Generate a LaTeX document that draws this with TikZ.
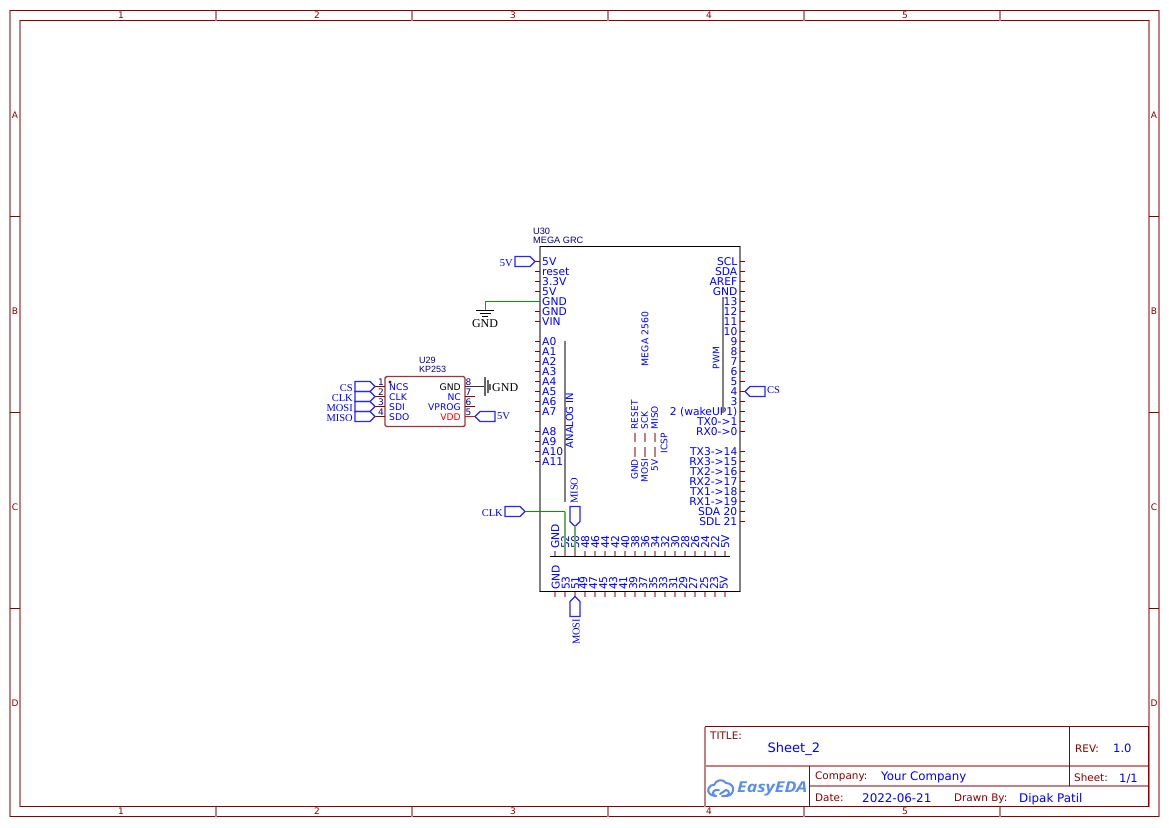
\documentclass[tikz,border=0pt]{standalone}
\usepackage{fontspec}
\setmainfont{DejaVu Sans}
\newfontfamily\serifnet{Liberation Serif}
\newfontfamily\sansh{Liberation Sans}
\newfontfamily\logof{Open Sans}
\definecolor{frm}{HTML}{880000}
\definecolor{val}{HTML}{0000FF}
\definecolor{netgreen}{HTML}{0F9A0F}
\definecolor{hdr}{HTML}{000080}
\definecolor{logoc}{HTML}{5B8DF0}
\tikzset{
  frame/.style={draw=frm,line width=1pt},
  framepale/.style={draw=frm!50,line width=2pt},
  pinstub/.style={draw=frm,line width=1pt},
  pinpale/.style={draw=frm!50,line width=2pt},
  body/.style={draw=black,line width=1pt},
  bodypale/.style={draw=black!50,line width=2pt},
  netwire/.style={color=green!60!black,line width=1.4pt},
  netpale/.style={color=green!50!black!60,line width=2pt},
  flag/.style={draw=val!85,line width=1.3pt},
  gndsym/.style={draw=black,line width=1pt},
  frametxt/.style={text=frm,inner sep=0pt,font=\fontsize{9}{9}\selectfont},
  lbl/.style={text=frm,inner sep=0pt,anchor=west,text height=7.6pt,text depth=0pt,font=\fontsize{10.4}{11}\selectfont},
  valtxt/.style={text=val,inner sep=0pt,anchor=west,text height=8.7pt,text depth=0pt,font=\fontsize{11.9}{12}\selectfont},
  pinl/.style={text=val,inner sep=0pt,anchor=west,text height=8pt,text depth=0pt,font=\fontsize{10.7}{11}\selectfont},
  pinr/.style={text=val,inner sep=0pt,anchor=east,text height=8pt,text depth=0pt,font=\fontsize{10.7}{11}\selectfont},
  vertl/.style={text=val,inner sep=0pt,rotate=90,anchor=west,text height=8pt,text depth=0pt,font=\fontsize{10.7}{11}\selectfont},
  small/.style={text=val,inner sep=0pt,rotate=90,text height=6.6pt,text depth=0pt,font=\fontsize{9}{9}\selectfont},
  icl/.style={text=val,inner sep=0pt,text height=6.7pt,text depth=0pt,font=\fontsize{9.2}{9}\selectfont},
  pinnum/.style={text=val!60!black,inner sep=0pt,font=\fontsize{9}{9}\selectfont},
  nettxt/.style={text=val,inner sep=0pt,text height=7pt,text depth=0pt,font=\serifnet\fontsize{10.5}{11}\selectfont},
  gndtxt/.style={text=black,inner sep=0pt,text height=8pt,text depth=0pt,font=\serifnet\fontsize{12}{12}\selectfont},
  header/.style={text=hdr,inner sep=0pt,anchor=west,font=\sansh\fontsize{9.2}{9}\selectfont},
}
\begin{document}
\begin{tikzpicture}[x=1pt,y=-1pt]
\useasboundingbox (0,0) rectangle (1169,827);
\fill[white] (0,0) rectangle (1169,827);
% frame
\draw[framepale] (10,10) -- (10,817);
\draw[framepale] (1159,10) -- (1159,817);
\draw[framepale] (20,20) -- (20,807);
\draw[framepale] (1149,20) -- (1149,807);
\draw[frame] (10,10.5) -- (1159,10.5);
\draw[frame] (10,816.5) -- (1159,816.5);
\draw[frame] (20,20.5) -- (1149,20.5);
\draw[frame] (20,806.5) -- (1149,806.5);
\foreach \x in {216,412,608,804,1000}{
  \draw[framepale] (\x,10.5) -- (\x,20.5);
  \draw[framepale] (\x,806.5) -- (\x,816.5);
}
\foreach \y in {216,412,608}{
  \draw[frame] (10,\y.5) -- (20,\y.5);
  \draw[frame] (1149,\y.5) -- (1159,\y.5);
}
\foreach \x/\t in {121/1,317/2,513/3,709/4,905/5}{
  \node[frametxt] (top\t) at (\x,15.5) {\t};
  \node[frametxt] (bot\t) at (\x,811.5) {\t};
}
\foreach \y/\t in {115/A,311/B,507/C,703/D}{
  \node[frametxt] (left\t) at (15,\y) {\t};
  \node[frametxt] (right\t) at (1154,\y) {\t};
}
% title block
\draw[framepale] (705,726.5) -- (705,806.5);
\draw[frame] (705,726.5) -- (1149,726.5);
\draw[framepale] (705,766) -- (1149,766);
\draw[framepale] (809,786) -- (1149,786);
\draw[frame] (809.5,766) -- (809.5,806.5);
\draw[frame] (1069.5,726.5) -- (1069.5,786);
\draw[frame] (1148.5,726.5) -- (1148.5,806.5);
\node[lbl] (ttl) at (710,736) {TITLE:};
\node[text=val,inner sep=0pt,anchor=west,text height=9.5pt,text depth=0pt,font=\fontsize{13}{13}\selectfont] (sheetname) at (767.5,747.5) {Sheet\_2};
\node[lbl] (rev) at (1075,749) {REV:};
\node[valtxt,font=\fontsize{11.5}{12}\selectfont] (revv) at (1113,748.4) {1.0};
\node[lbl] (comp) at (815,776) {Company:};
\node[valtxt,font=\fontsize{11.8}{12}\selectfont] (compv) at (881,776) {Your Company};
\node[lbl] (sht) at (1074,778) {Sheet:};
\node[valtxt,font=\fontsize{11.5}{12}\selectfont] (shtv) at (1119,777.7) {1/1};
\node[lbl] (date) at (815,798) {Date:};
\node[valtxt] (datev) at (862,797.8) {2022-06-21};
\node[lbl] (drawn) at (954,798) {Drawn By:};
\node[valtxt] (drawnv) at (1019,797.8) {Dipak Patil};
% logo
\draw[draw=logoc,line width=2pt,line cap=round,line join=round]
  (716,796) .. controls (710,796) and (707,792) .. (708.5,788.5)
  .. controls (709.5,785.5) and (712,784.5) .. (714,785)
  .. controls (716,779.5) and (723,778.5) .. (726,783)
  .. controls (731,783) and (734,787) .. (733,790.5)
  .. controls (732,794) and (730,796) .. (726,796);
\draw[draw=logoc,line width=2pt,line cap=round] (716,796) .. controls (712,796) and (712,790) .. (716,790) -- (719,790);
\draw[draw=logoc,line width=2pt,line cap=round] (720,794) -- (726,790) .. controls (730,790) and (730,796) .. (725,796) -- (722,796);
\node[text=logoc,inner sep=0pt,anchor=west,xscale=1.18,font=\logof\bfseries\itshape\fontsize{15}{15}\selectfont] (logo) at (737,789) {EasyEDA};
% U30 body
\node[header] (u30a) at (533,231) {U30};
\node[header] (u30b) at (533,240.5) {MEGA GRC};
\draw[bodypale] (540,246) -- (540,592);
\draw[bodypale] (740,246) -- (740,592);
\draw[body] (540,246.5) -- (740,246.5);
\draw[body] (540,591.5) -- (740,591.5);
\foreach \y/\t in {261/5V,271/reset,281/3.3V,291/5V,301/GND,311/GND,321/VIN,341/A0,351/A1,361/A2,371/A3,381/A4,391/A5,401/A6,411/A7,431/A8,441/A9,451/A10,461/A11}{
  \draw[pinstub] (535,\y.5) -- (540,\y.5);
  \node[pinl] at (542,\y) {\t};
}
\foreach \y/\t in {261/SCL,271/SDA,281/AREF,291/GND,301/13,311/12,321/11,331/10,341/9,351/8,361/7,371/6,381/5,391/4,401/3,411/2 (wakeUP1),421/TX0->1,431/RX0->0,451/TX3->14,461/RX3->15,471/TX2->16,481/RX2->17,491/TX1->18,501/RX1->19,511/SDA 20,521/SDL 21}{
  \draw[pinstub] (740,\y.5) -- (745,\y.5);
  \node[pinr] at (737.5,\y) {\t};
}
\draw[bodypale] (565,341) -- (565,502);
\draw[bodypale] (723,297) -- (723,413);
\draw[body] (549.5,556.5) -- (730,556.5);
\node[small,text height=7.3pt,font=\fontsize{10}{10}\selectfont] (analog) at (569.5,420.5) {ANALOG IN};
\node[small] (pwm) at (716,358) {PWM};
\node[small,font=\fontsize{9.3}{9}\selectfont] (mega) at (645,339) {MEGA 2560};
\node[small] (icsp) at (664,443) {ICSP};
\foreach \x/\t/\b in {635/RESET/GND,645/SCK/MOSI,655/MISO/5V}{
  \draw[pinpale] (\x,433) -- (\x,441.5);
  \draw[pinpale] (\x,446.5) -- (\x,456.5);
  \node[small,anchor=west] at (\x-0.5,429.5) {\t};
  \node[small,anchor=east] at (\x-0.5,459) {\b};
}
% lower pin rows
\foreach \x/\t in {555/GND,565/52,575/50,585/48,595/46,605/44,615/42,625/40,635/38,645/36,655/34,665/32,675/30,685/28,695/26,705/24,715/22,725/5V}{
  \draw[pinpale] (\x,551) -- (\x,556);
  \node[vertl] at (\x,549) {\t};
}
\foreach \x/\t/\o in {555/GND/0.5,565/53/0.5,575/51/0,585/49/-2,595/47/-2,605/45/-2,615/43/-2,625/41/-2,635/39/-2,645/37/-2,655/35/-2,665/33/-2,675/31/-2,685/29/-2,695/27/-2,705/25/-1,715/23/-1,725/5V/-1.5}{
  \draw[pinpale] (\x,592) -- (\x,597);
  \node[vertl] at (\x+\o,590) {\t};
}
% net flags on U30
\draw[flag] (515,256.5) -- (530,256.5) -- (535,261.5) -- (530,266.5) -- (515,266.5) -- cycle;
\node[nettxt,anchor=east] (n5v) at (513,262.7) {5V};
\coordinate (g1a) at (540,301.5);
\coordinate (g1b) at (485,301.5);
\coordinate (g1c) at (485,311);
\draw[draw=black!60,line width=1pt] (g1b) -- (g1c);
\draw[netwire] (g1a) -- (g1b);
\draw[gndsym] (476,310.5) -- (494,310.5);
\draw[gndsym] (479.5,313.5) -- (490.5,313.5);
\draw[gndsym] (482,316.5) -- (487.5,316.5);
\node[gndtxt] (gnd1) at (485,323.2) {GND};
\draw[flag] (505,506.5) -- (520,506.5) -- (525,511.5) -- (520,516.5) -- (505,516.5) -- cycle;
\node[nettxt,anchor=east] (nclk) at (503,512.7) {CLK};
\coordinate (c1) at (525,511.5);
\coordinate (c2) at (565,511.5);
\coordinate (c3) at (565,551);
\draw[netpale] (c2) -- (c3);
\draw[netwire] (c1) -- (c2);
\draw[flag] (570,506.5) -- (580,506.5) -- (580,521.5) -- (575,526.5) -- (570,521.5) -- cycle;
\node[nettxt,rotate=90,anchor=west] (nmiso) at (574,504) {MISO};
\coordinate (m1) at (575,526);
\coordinate (m2) at (575,551);
\draw[netpale] (m1) -- (m2);
\draw[flag] (575,596.5) -- (580,601.5) -- (580,616.5) -- (570,616.5) -- (570,601.5) -- cycle;
\node[nettxt,rotate=90,anchor=east] (nmosi) at (576,618.5) {MOSI};
\draw[flag] (745,391.5) -- (750,386.5) -- (765,386.5) -- (765,396.5) -- (750,396.5) -- cycle;
\node[nettxt,anchor=west] (ncs) at (767,390.3) {CS};
% U29
\node[header,font=\sansh\fontsize{9}{9}\selectfont] (u29a) at (419,360.5) {U29};
\node[header,font=\sansh\fontsize{9}{9}\selectfont] (u29b) at (419,369.5) {KP253};
\draw[draw=frm!80,line width=1.4pt,rounded corners=1.5pt] (385,376.5) rectangle (465,426.5);
\fill[frm] (390,382) circle (1.6);
\foreach \y/\n/\t/\f in {387/1/NCS/CS,397/2/CLK/CLK,407/3/SDI/MOSI,417/4/SDO/MISO}{
  \draw[pinstub] (375,\y-0.5) -- (385,\y-0.5);
  \node[pinnum] at (381,\y-5) {\n};
  \node[icl,anchor=west] at (389,\y.5) {\t};
  \draw[flag] (355,\y-5.5) -- (370,\y-5.5) -- (375,\y-0.5) -- (370,\y+4.5) -- (355,\y+4.5) -- cycle;
  \node[nettxt,anchor=east] at (353,\y+1) {\f};
}
\draw[draw=black!80,line width=1pt] (465,386.5) -- (485,386.5);
\draw[pinstub] (465,396.5) -- (475,396.5);
\draw[pinstub] (465,406.5) -- (475,406.5);
\draw[draw=red,line width=1pt] (465,416.5) -- (475,416.5);
\foreach \y/\n in {387/8,397/7,407/6,417/5}{
  \node[pinnum] at (468.5,\y-5) {\n};
}
\node[icl,anchor=east,text=black] (pgnd) at (461,387.5) {GND};
\node[icl,anchor=east] (pnc) at (461,397.5) {NC};
\node[icl,anchor=east] (pvp) at (461,407.5) {VPROG};
\node[icl,anchor=east,text=red] (pvdd) at (461,417.5) {VDD};
\draw[draw=black!60,line width=2pt] (485,377) -- (485,396);
\draw[draw=black!60,line width=2pt] (487.5,380) -- (487.5,393);
\draw[draw=black!60,line width=2pt] (490,383.5) -- (490,389.5);
\node[gndtxt,anchor=west] (gnd2) at (492,387) {GND};
\draw[flag] (475,416.5) -- (480,411.5) -- (495,411.5) -- (495,421.5) -- (480,421.5) -- cycle;
\node[nettxt,anchor=west] (n5v2) at (497,415.5) {5V};
\end{tikzpicture}
\end{document}
